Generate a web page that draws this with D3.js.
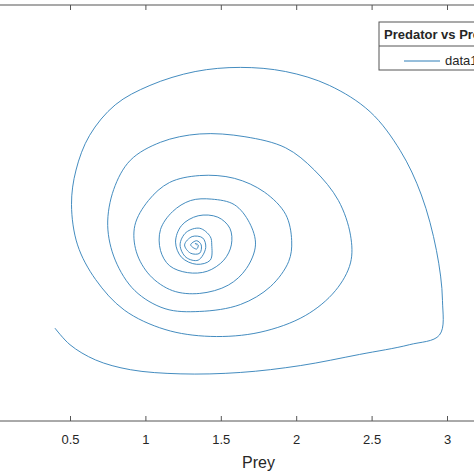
<!DOCTYPE html>
<html>
<head>
<meta charset="utf-8">
<script src="https://cdn.jsdelivr.net/npm/d3@7"></script>
<style>
  body { margin: 0; background: #fff; }
  text { font-family: "Liberation Sans", Arial, sans-serif; fill: #262626; }
</style>
</head>
<body>
<svg id="chart" width="474" height="474"></svg>
<script>
const xTicks = [0.5, 1, 1.5, 2, 2.5, 3];
const prey = [0.40,0.50,0.67,0.90,1.23,1.63,2.03,2.42,2.75,2.95,2.97,2.93,2.83,2.69,2.49,2.22,1.93,1.63,1.33,1.03,
  0.80,0.63,0.54,0.51,0.55,0.67,0.86,1.13,1.43,1.76,2.06,2.26,2.36,2.36,2.28,2.12,1.93,1.66,1.36,1.10,
  0.90,0.79,0.75,0.80,0.93,1.13,1.36,1.63,1.83,1.95,1.97,1.93,1.79,1.59,1.36,1.16,1.02,0.93,0.94,1.03,
  1.18,1.36,1.55,1.67,1.73,1.69,1.59,1.44,1.30,1.18,1.10,1.10,1.16,1.28,1.41,1.52,1.57,1.56,1.48,1.35,
  1.24,1.20,1.24,1.34,1.43,1.44,1.43,1.36,1.27,1.23,1.27,1.35,1.40,1.38,1.31,1.26,1.30,1.36,1.37,1.34,
  1.30,1.34,1.35,1.33,1.34];
const predator = [0.67,0.55,0.44,0.37,0.34,0.35,0.40,0.48,0.55,0.62,0.87,1.23,1.63,1.95,2.23,2.42,2.52,2.55,2.52,2.42,
  2.28,2.06,1.81,1.56,1.27,1.02,0.80,0.66,0.61,0.64,0.76,0.94,1.14,1.34,1.59,1.81,1.97,2.05,2.07,2.01,
  1.88,1.67,1.41,1.16,0.94,0.81,0.79,0.84,0.97,1.15,1.30,1.49,1.65,1.75,1.77,1.72,1.59,1.41,1.22,1.05,
  0.94,0.92,0.98,1.10,1.27,1.43,1.56,1.60,1.59,1.51,1.38,1.23,1.12,1.07,1.08,1.16,1.27,1.39,1.47,1.48,
  1.41,1.29,1.18,1.13,1.16,1.27,1.33,1.39,1.36,1.27,1.18,1.16,1.25,1.32,1.33,1.27,1.21,1.21,1.27,1.30,
  1.27,1.24,1.27,1.28,1.27];

const svg = d3.select("#chart");
const plotTop = 5, plotBottom = 421;

const x = d3.scaleLinear().domain([0.5, 3]).range([70, 447]);
const y = d3.scaleLinear().domain([0, 3]).range([plotBottom, plotTop]);

// axes box
svg.append("rect").attr("x", -10).attr("y", plotTop).attr("width", 500).attr("height", plotBottom - plotTop)
  .attr("fill", "none").attr("stroke", "#555").attr("stroke-width", 1);

const xAxis = svg.append("g").attr("transform", `translate(0,${plotBottom})`)
  .call(d3.axisBottom(x).tickValues(xTicks).tickSize(-5).tickPadding(14).tickFormat(d3.format("")));
xAxis.select(".domain").remove();
xAxis.selectAll("line").attr("stroke", "#555");
xAxis.selectAll("text").attr("font-size", 13).attr("fill", "#262626");

const xTop = svg.append("g").attr("transform", `translate(0,${plotTop})`)
  .call(d3.axisTop(x).tickValues(xTicks).tickSize(-5).tickFormat(""));
xTop.select(".domain").remove();
xTop.selectAll("line").attr("stroke", "#555");

svg.append("text").attr("x", x(1.75)).attr("y", 468).attr("text-anchor", "middle")
  .attr("font-size", 16).text("Prey");

const pts = prey.map((p, i) => [p, predator[i]]);
svg.append("path").datum(pts)
  .attr("fill", "none").attr("stroke", "#2f7fb8").attr("stroke-width", 0.9)
  .attr("d", d3.line().x(d => x(d[0])).y(d => y(d[1])).curve(d3.curveCatmullRom));

// legend
const lg = svg.append("g");
lg.append("rect").attr("x", 379).attr("y", 22).attr("width", 110).attr("height", 48)
  .attr("fill", "#fff").attr("stroke", "#555");
lg.append("line").attr("x1", 379).attr("x2", 489).attr("y1", 46).attr("y2", 46).attr("stroke", "#555");
lg.append("text").attr("x", 384).attr("y", 39).attr("font-size", 13).attr("font-weight", "bold")
  .text("Predator vs Prey");
lg.append("line").attr("x1", 404).attr("x2", 440).attr("y1", 61).attr("y2", 61)
  .attr("stroke", "#2f7fb8").attr("stroke-width", 1);
lg.append("text").attr("x", 445).attr("y", 65).attr("font-size", 13).text("data1");
</script>
</body>
</html>
